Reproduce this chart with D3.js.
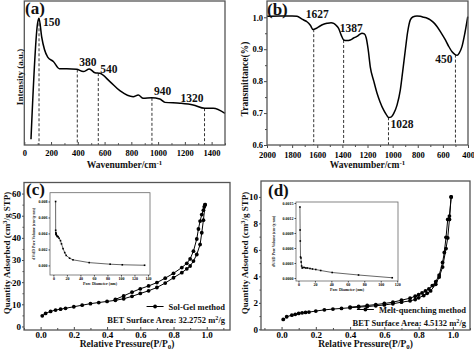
<!DOCTYPE html>
<html lang="en">
  <head>
    <meta charset="UTF-8" />
    <title>Raman, FTIR and N2 isotherms</title>
    <script src="https://d3js.org/d3.v7.min.js"></script>
    <style>
      body { margin: 0; background: #fff; }
      svg {
        display: block;
        font-family: "Liberation Serif", "Times New Roman", serif;
        font-weight: bold;
        fill: #111;
      }
    </style>
  </head>
  <body>
    <svg width="474" height="353"></svg>
    <script>
      // ---------- data ----------
      // (a) Raman, intensity in arbitrary units (0..100)
      const ramanWave = [50, 100, 110, 130, 175, 217, 262, 317, 391, 441, 486, 528, 565, 640, 714, 814, 852, 889, 951, 1013, 1051, 1163, 1262, 1349, 1412, 1500];
      const ramanInt = [4, 85, 88, 75, 61, 58, 53, 53, 52.6, 51, 52.8, 50.2, 49.8, 44, 37.7, 33.5, 34.7, 32.4, 32.8, 31.9, 29.6, 29, 27.8, 25.5, 25.5, 22];
      const ramanPeakWave = [110, 396, 553, 954, 1347];
      const ramanPeakText = ["150", "380", "540", "940", "1320"];
      const ramanTicks = [0, 200, 400, 600, 800, 1000, 1200, 1400];
      const ramanMinor = [100, 300, 500, 700, 900, 1100, 1300, 1500];

      // (b) FTIR
      const ftirWave = [2000, 1900, 1800, 1761, 1721, 1700, 1682, 1655, 1634, 1610, 1589, 1550, 1522, 1490, 1469, 1450, 1430, 1410, 1390, 1365, 1337, 1310, 1284, 1260, 1244, 1225, 1210, 1195, 1178, 1150, 1124, 1100, 1071, 1050, 1031, 1010, 991, 965, 939, 920, 899, 880, 859, 840, 806, 780, 752, 725, 700, 675, 647, 615, 580, 555, 527, 505, 487, 470, 448, 425, 402];
      const ftirTrans = [1.003, 1.004, 1.004, 1.003, 0.994, 0.99, 0.986, 0.975, 0.962, 0.965, 0.97, 0.978, 0.981, 0.983, 0.981, 0.975, 0.965, 0.945, 0.929, 0.927, 0.929, 0.935, 0.94, 0.947, 0.95, 0.948, 0.935, 0.9, 0.845, 0.8, 0.762, 0.735, 0.709, 0.695, 0.686, 0.688, 0.699, 0.725, 0.772, 0.83, 0.897, 0.955, 0.992, 1.001, 1.004, 1.003, 1.0, 0.997, 0.992, 0.984, 0.971, 0.952, 0.929, 0.91, 0.892, 0.884, 0.881, 0.888, 0.908, 0.95, 1.002];
      const ftirPeakWave = [1628, 1390, 1033, 500];
      const ftirPeakText = ["1627", "1387", "1028", "450"];
      const ftirXTicks = [2000, 1800, 1600, 1400, 1200, 1000, 800, 600, 400];
      const ftirXMinor = [1900, 1700, 1500, 1300, 1100, 900, 700, 500];
      const ftirYTicks = [0.6, 0.7, 0.8, 0.9, 1.0];

      // (c) Sol-Gel N2 isotherm
      const solAdsP = [0.01, 0.03, 0.06, 0.09, 0.12, 0.15, 0.2, 0.25, 0.3, 0.35, 0.4, 0.45, 0.5, 0.55, 0.6, 0.65, 0.7, 0.75, 0.8, 0.85, 0.88, 0.9, 0.92, 0.94, 0.96, 0.97, 0.98, 0.99];
      const solAdsQ = [4.8, 5.9, 6.8, 7.4, 7.8, 8.2, 8.9, 9.6, 10.3, 10.8, 11.3, 11.8, 12.5, 13.6, 14.9, 16.1, 17.6, 19.6, 22.0, 24.3, 26.0, 27.3, 29.5, 32.5, 37.0, 42.3, 48.0, 55.0];
      const solDesP = [0.99, 0.985, 0.98, 0.97, 0.96, 0.95, 0.94, 0.92, 0.9, 0.88, 0.85, 0.8, 0.75, 0.7, 0.65, 0.6, 0.55, 0.5, 0.45];
      const solDesQ = [55.0, 54.0, 52.5, 50.5, 47.6, 44.0, 39.5, 34.0, 30.5, 28.5, 26.6, 24.0, 21.8, 19.8, 18.3, 17.0, 15.5, 13.8, 12.2];
      const solPoreD = [3.3, 3.4, 3.6, 3.8, 4.1, 4.5, 5.2, 6, 7, 8.5, 10.5, 12, 14.3, 16.8, 19, 24, 29, 53, 84, 102, 135];
      const solPoreV = [0.008, 0.0044, 0.0041, 0.0039, 0.004, 0.0038, 0.0037, 0.0036, 0.0036, 0.0034, 0.0031, 0.0027, 0.0021, 0.0016, 0.00125, 0.0009, 0.0007, 0.00035, 0.00015, 0.00008, 0.00002];

      // (d) Melt-quenching N2 isotherm
      const meltAdsP = [0.01, 0.03, 0.06, 0.08, 0.1, 0.12, 0.14, 0.16, 0.2, 0.25, 0.3, 0.35, 0.4, 0.45, 0.5, 0.55, 0.6, 0.65, 0.7, 0.75, 0.78, 0.8, 0.83, 0.85, 0.87, 0.9, 0.92, 0.94, 0.96, 0.97, 0.98, 0.99];
      const meltAdsQ = [0.75, 0.95, 1.07, 1.13, 1.2, 1.25, 1.28, 1.3, 1.38, 1.47, 1.53, 1.58, 1.63, 1.68, 1.72, 1.78, 1.84, 1.93, 2.05, 2.15, 2.25, 2.38, 2.55, 2.72, 2.9, 3.4, 3.95, 4.7, 6.1, 6.9, 8.3, 10.0];
      const meltDesP = [0.99, 0.98, 0.97, 0.96, 0.95, 0.94, 0.92, 0.9, 0.88, 0.86, 0.84, 0.82, 0.8, 0.78, 0.75, 0.7, 0.65, 0.6, 0.55, 0.5, 0.45, 0.4];
      const meltDesQ = [10.0, 8.55, 8.3, 6.95, 5.8, 5.05, 4.1, 3.6, 3.3, 3.05, 2.9, 2.75, 2.62, 2.5, 2.35, 2.2, 2.05, 1.95, 1.87, 1.8, 1.73, 1.68];
      const meltPoreD = [1.8, 2.0, 2.2, 2.5, 3.0, 3.3, 3.8, 4.5, 5.5, 7, 9, 11, 14, 17, 21, 27, 41, 73, 114];
      const meltPoreV = [0.00142, 0.00096, 0.00074, 0.00042, 0.0004, 0.00032, 0.00024, 0.0002, 0.00021, 0.00021, 0.0002, 0.0002, 0.00019, 0.00018, 0.00017, 0.00015, 0.00011, 0.00006, 0.000005];

      const pTicks = [0, 0.2, 0.4, 0.6, 0.8, 1.0];
      const pMinor = [-0.1, 0.1, 0.3, 0.5, 0.7, 0.9, 1.1];
      const solQTicks = [0, 10, 20, 30, 40, 50, 60];
      const meltQTicks = [0, 2, 4, 6, 8, 10];
      const solPoreXTicks = [0, 20, 40, 60, 80, 100, 120, 140];
      const solPoreYTicks = [0, 0.002, 0.004, 0.006, 0.008];
      const meltPoreXTicks = [0, 20, 40, 60, 80, 100, 120];
      const meltPoreYTicks = [0, 0.0003, 0.0006, 0.0009, 0.0012, 0.0015];

      const svg = d3.select("svg");

      // ---------- helpers ----------
      function frame(x, y, w) {
        const [x0, x1] = d3.extent(x.range());
        const [y0, y1] = d3.extent(y.range());
        return svg.append("rect")
          .attr("x", x0).attr("y", y0)
          .attr("width", x1 - x0).attr("height", y1 - y0)
          .attr("fill", "none").attr("stroke", "#555").attr("stroke-width", w);
      }

      function addAxis(gen, tx, ty, size) {
        const a = svg.append("g")
          .attr("transform", `translate(${tx},${ty})`)
          .call(gen);
        a.attr("font-family", null).attr("font-size", size);
        a.select(".domain").remove();
        a.selectAll(".tick line").attr("stroke", "#333").attr("stroke-width", 0.9);
        return a;
      }

      // text made of parts: [string, "sup" | "sub" | undefined]
      function richText(x, y, parts, size, anchor, rotate) {
        const t = svg.append("text")
          .attr("font-size", size)
          .attr("text-anchor", anchor || "middle");
        if (rotate) t.attr("transform", `translate(${x},${y}) rotate(-90)`);
        else t.attr("x", x).attr("y", y);
        parts.forEach(([s, kind]) => {
          const sp = t.append("tspan").text(s);
          if (kind === "sup") sp.attr("font-size", size * 0.72).attr("baseline-shift", "45%");
          if (kind === "sub") sp.attr("font-size", size * 0.72).attr("baseline-shift", "-25%");
        });
        return t;
      }

      // value of a polyline at position v (xs may run either way)
      function valueAt(xs, ys, v) {
        for (let i = 0; i < xs.length - 1; i++) {
          const a = xs[i], b = xs[i + 1];
          if ((v - a) * (v - b) <= 0) {
            return d3.scaleLinear().domain([a, b]).range([ys[i], ys[i + 1]])(v);
          }
        }
        return ys[ys.length - 1];
      }

      function dashedPeaks(x, y, xs, ys, peaks, texts, offs, bottom) {
        peaks.forEach((p, i) => {
          const top = y(valueAt(xs, ys, p));
          svg.append("line")
            .attr("x1", x(p)).attr("x2", x(p))
            .attr("y1", top).attr("y2", bottom)
            .attr("stroke", "#333").attr("stroke-width", 1)
            .attr("stroke-dasharray", "3,2");
          const o = offs[i];
          svg.append("text")
            .attr("x", x(p) + o.dx).attr("y", top + o.dy)
            .attr("font-size", 11.5)
            .attr("text-anchor", o.anchor)
            .text(texts[i]);
        });
      }

      // ---------- (a) Raman ----------
      const xA = d3.scaleLinear().domain([0, 1500]).range([24.3, 225]);
      const yA = d3.scaleLinear().domain([0, 100]).range([145, 1]);

      addAxis(d3.axisBottom(xA).tickValues(ramanMinor).tickSize(-1.8).tickFormat(""), 0, 145, 8.5);
      addAxis(d3.axisBottom(xA).tickValues(ramanTicks).tickSizeInner(-3).tickSizeOuter(0).tickPadding(5).tickFormat(d3.format("d")), 0, 145, 8.5);

      const ramanLabelOffsets = [
        { dx: 4, dy: 8, anchor: "start" },
        { dx: 2, dy: -3, anchor: "start" },
        { dx: 2, dy: 0, anchor: "start" },
        { dx: 2, dy: -3, anchor: "start" },
        { dx: -1, dy: -6, anchor: "end" },
      ];
      dashedPeaks(xA, yA, ramanWave, ramanInt, ramanPeakWave, ramanPeakText, ramanLabelOffsets, 145);

      svg.append("path")
        .datum(ramanWave.map((w, i) => [w, ramanInt[i]]))
        .attr("fill", "none").attr("stroke", "#000").attr("stroke-width", 1.5)
        .attr("d", d3.line().x((d) => xA(d[0])).y((d) => yA(d[1])).curve(d3.curveMonotoneX));

      frame(xA, yA, 1.3);
      richText(124.5, 168, [["Wavenumber/cm"], ["-1", "sup"]], 9.5);
      richText(22.5, 77, [["Intensity (a.u.)"]], 9, "middle", true);
      svg.append("text").attr("x", 25).attr("y", 14).attr("font-size", 17).text("(a)");

      // ---------- (b) FTIR ----------
      const xB = d3.scaleLinear().domain([2000, 400]).range([267, 468]);
      const yB = d3.scaleLinear().domain([0.6, 1.051]).range([145, 1]);

      addAxis(d3.axisBottom(xB).tickValues(ftirXMinor).tickSize(2).tickFormat(""), 0, 145, 8.5);
      addAxis(d3.axisBottom(xB).tickValues(ftirXTicks).tickSize(3).tickPadding(3.5).tickFormat(d3.format("d")), 0, 145, 8.5);
      addAxis(d3.axisLeft(yB).tickValues([0.65, 0.75, 0.85, 0.95]).tickSize(2).tickFormat(""), 267, 0, 8.5);
      addAxis(d3.axisLeft(yB).tickValues(ftirYTicks).tickSize(3).tickPadding(1).tickFormat(d3.format(".1f")), 267, 0, 8.5);

      const ftirLabelOffsets = [
        { dx: -8, dy: -11, anchor: "start" },
        { dx: -4, dy: -8, anchor: "start" },
        { dx: 2, dy: 10.5, anchor: "start" },
        { dx: -3, dy: 8, anchor: "end" },
      ];
      dashedPeaks(xB, yB, ftirWave, ftirTrans, ftirPeakWave, ftirPeakText, ftirLabelOffsets, 145);

      svg.append("path")
        .datum(ftirWave.map((w, i) => [w, ftirTrans[i]]))
        .attr("fill", "none").attr("stroke", "#000").attr("stroke-width", 1.5)
        .attr("d", d3.line().x((d) => xB(d[0])).y((d) => yB(d[1])).curve(d3.curveMonotoneX));

      frame(xB, yB, 1.3);
      richText(367.5, 168, [["Wavenumber/cm"], ["-1", "sup"]], 9.5);
      richText(247.5, 79, [["Transmittance(%)"]], 9.5, "middle", true);
      svg.append("text").attr("x", 267).attr("y", 15).attr("font-size", 17).text("(b)");

      // ---------- isotherm panels ----------
      function isotherm(x, y, branches) {
        const line = d3.line().x((d) => x(d[0])).y((d) => y(d[1]));
        branches.forEach(([ps, qs]) => {
          const pts = ps.map((p, i) => [p, qs[i]]);
          svg.append("path").datum(pts)
            .attr("fill", "none").attr("stroke", "#000").attr("stroke-width", 1)
            .attr("d", line);
          svg.append("g").selectAll("circle").data(pts).join("circle")
            .attr("cx", (d) => x(d[0])).attr("cy", (d) => y(d[1]))
            .attr("r", 1.9).attr("fill", "#000");
        });
      }

      function inset(x, y, ds, vs, xt, yt, yfmt, titleX) {
        const [x0, x1] = d3.extent(x.range());
        const [y0, y1] = d3.extent(y.range());
        svg.append("rect").attr("x", x0).attr("y", y0)
          .attr("width", x1 - x0).attr("height", y1 - y0)
          .attr("fill", "#fff").attr("stroke", "#666").attr("stroke-width", 0.8);
        addAxis(d3.axisBottom(x).tickValues(xt).tickSize(1.5).tickPadding(1), 0, y1, 4);
        addAxis(d3.axisLeft(y).tickValues(yt).tickSize(1.5).tickPadding(1).tickFormat(d3.format(yfmt)), x0, 0, 4);
        const pts = ds.map((d, i) => [d, vs[i]]);
        svg.append("path").datum(pts)
          .attr("fill", "none").attr("stroke", "#000").attr("stroke-width", 0.6)
          .attr("d", d3.line().x((d) => x(d[0])).y((d) => y(d[1])));
        svg.append("g").selectAll("rect").data(pts).join("rect")
          .attr("x", (d) => x(d[0]) - 0.8).attr("y", (d) => y(d[1]) - 0.8)
          .attr("width", 1.6).attr("height", 1.6).attr("fill", "#000");
        richText((x0 + x1) / 2, y1 + 10, [["Pore Diameter (nm)"]], 4);
        richText(titleX, (y0 + y1) / 2, [["dV/dD Pore Volume (cm"], ["3", "sup"], ["/g\u00b7nm)"]], 3.8, "middle", true);
      }

      function legend(xEnd, yLine, label, bet) {
        const t = svg.append("text").attr("x", xEnd).attr("y", yLine + 3)
          .attr("font-size", 8.5).attr("text-anchor", "end").text(label);
        const w = t.node().getComputedTextLength();
        const lx = xEnd - w - 5;
        svg.append("line").attr("x1", lx - 17).attr("x2", lx)
          .attr("y1", yLine).attr("y2", yLine).attr("stroke", "#000").attr("stroke-width", 1);
        svg.append("circle").attr("cx", lx - 8.5).attr("cy", yLine).attr("r", 1.9).attr("fill", "#000");
        richText(xEnd, yLine + 16.5, [["BET Surface Area: " + bet + " m"], ["2", "sup"], ["/g"]], 8.5, "end");
      }

      // ---------- (c) Sol-Gel ----------
      const xC = d3.scaleLinear().domain([-0.1, 1.14]).range([24, 230]);
      const yC = d3.scaleLinear().domain([-1.6, 65]).range([330, 182.5]);

      addAxis(d3.axisBottom(xC).tickValues(pMinor).tickSize(-2).tickFormat(""), 0, 330, 9);
      addAxis(d3.axisBottom(xC).tickValues(pTicks).tickSizeInner(-3).tickSizeOuter(0).tickPadding(1.5).tickFormat(d3.format(".1f")), 0, 330, 9);
      addAxis(d3.axisLeft(yC).tickValues(d3.range(5, 65, 10)).tickSize(1.5).tickFormat(""), 24, 0, 9);
      addAxis(d3.axisLeft(yC).tickValues(solQTicks).tickSize(2).tickPadding(1), 24, 0, 9);

      isotherm(xC, yC, [[solAdsP, solAdsQ], [solDesP, solDesQ]]);
      frame(xC, yC, 1.3);
      inset(
        d3.scaleLinear().domain([-5, 143]).range([50, 150]),
        d3.scaleLinear().domain([-0.0012, 0.0091]).range([275, 192.7]),
        solPoreD, solPoreV, solPoreXTicks, solPoreYTicks, ".3f", 35
      );
      legend(225, 306.5, "Sol-Gel method", "32.2752");
      richText(127, 346.5, [["Relative Pressure(P/P"], ["0", "sub"], [")"]], 9.5);
      richText(10, 253, [["Quantity Adsorbed (cm"], ["3", "sup"], ["/g STP)"]], 9, "middle", true);
      svg.append("text").attr("x", 26).attr("y", 195).attr("font-size", 17).text("(c)");

      // ---------- (d) Melt-quenching ----------
      const xD = d3.scaleLinear().domain([-0.12, 1.1]).range([261, 470]);
      const yD = d3.scaleLinear().domain([-0.05, 11.2]).range([330, 181]);

      addAxis(d3.axisBottom(xD).tickValues(pMinor).tickSize(-2).tickFormat(""), 0, 330, 9);
      addAxis(d3.axisBottom(xD).tickValues(pTicks).tickSizeInner(-3).tickSizeOuter(0).tickPadding(1.5).tickFormat(d3.format(".1f")), 0, 330, 9);
      addAxis(d3.axisLeft(yD).tickValues(d3.range(1, 11, 2)).tickSize(1.5).tickFormat(""), 261, 0, 9);
      addAxis(d3.axisLeft(yD).tickValues(meltQTicks).tickSize(2).tickPadding(1), 261, 0, 9);

      isotherm(xD, yD, [[meltAdsP, meltAdsQ], [meltDesP, meltDesQ]]);
      frame(xD, yD, 1.3);
      inset(
        d3.scaleLinear().domain([-3, 121]).range([296, 398]),
        d3.scaleLinear().domain([-0.00006, 0.00152]).range([281, 202]),
        meltPoreD, meltPoreV, meltPoreXTicks, meltPoreYTicks, ".4f", 275
      );
      legend(466, 309.5, "Melt-quenching method", "4.5132");
      richText(365.5, 346.5, [["Relative Pressure(P/P"], ["0", "sub"], [")"]], 9.5);
      richText(247.5, 253, [["Quantity Adsorbed (cm"], ["3", "sup"], ["/g STP)"]], 9, "middle", true);
      svg.append("text").attr("x", 268).attr("y", 196).attr("font-size", 17).text("(d)");
    </script>
  </body>
</html>
